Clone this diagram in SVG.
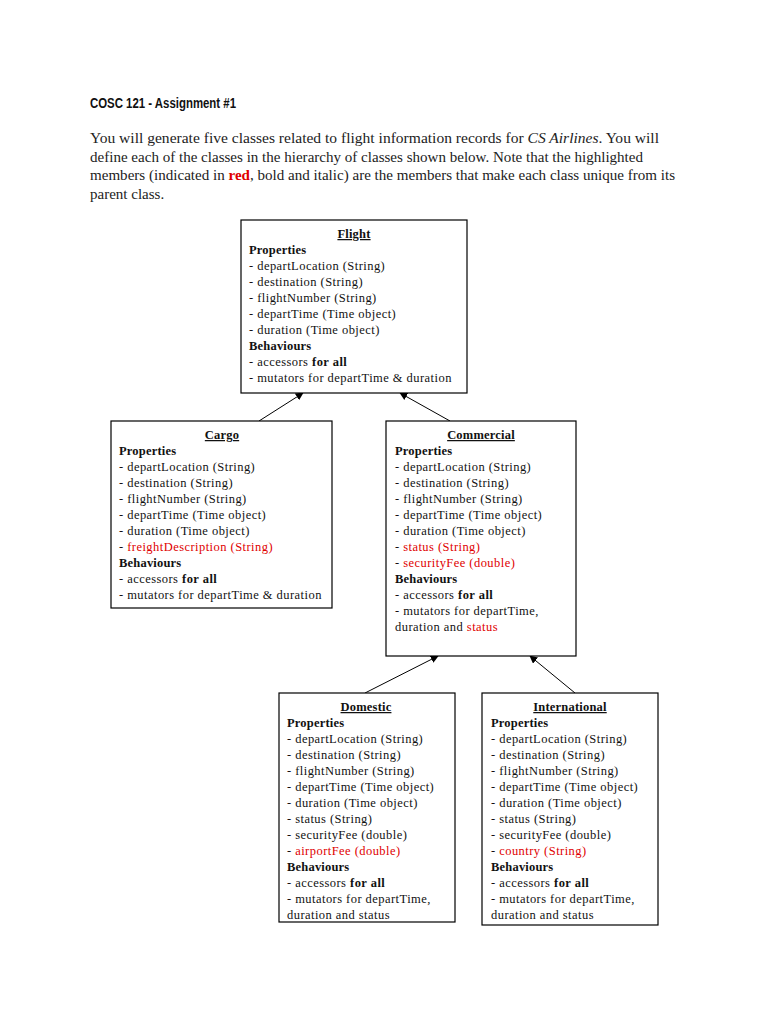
<svg xmlns="http://www.w3.org/2000/svg" width="768" height="1024" viewBox="0 0 768 1024">
<style>
.bg{fill:#fff}
.box{fill:#fff;stroke:#000;stroke-width:1.2}
.t{font-family:"Liberation Serif","Times New Roman",serif;font-size:12.5px;fill:#111;letter-spacing:0.45px}
.h{font-weight:bold;letter-spacing:0.2px}
.title{font-weight:bold;text-decoration:underline;text-anchor:middle;letter-spacing:0.2px}
.red{fill:#e00000}
.b{font-weight:bold}
.p{font-family:"Liberation Serif","Times New Roman",serif;font-size:15px;fill:#222}
.conn{stroke:#000;stroke-width:1;fill:none}
</style>
<defs>
<marker id="arr" viewBox="0 0 10 10" refX="9" refY="5" markerWidth="8" markerHeight="8" markerUnits="userSpaceOnUse" orient="auto">
<path d="M0,0 L10,5 L0,10 z" fill="#000"/>
</marker>
</defs>
<rect class="bg" x="0" y="0" width="768" height="1024"/>
<g id="header">
<text x="90" y="108" font-family="'Liberation Sans',Arial,sans-serif" font-size="14" font-weight="bold" fill="#111" textLength="146" lengthAdjust="spacingAndGlyphs">COSC 121 - Assignment #1</text>
<text class="p" x="90" y="143" textLength="569" lengthAdjust="spacingAndGlyphs">You will generate five classes related to flight information records for <tspan font-style="italic">CS Airlines</tspan>. You will</text>
<text class="p" x="90" y="161.5" textLength="553" lengthAdjust="spacingAndGlyphs">define each of the classes in the hierarchy of classes shown below. Note that the highlighted</text>
<text class="p" x="90" y="180" textLength="585" lengthAdjust="spacingAndGlyphs">members (indicated in <tspan fill="#e00000" font-weight="bold">red</tspan>, bold and italic) are the members that make each class unique from its</text>
<text class="p" x="90" y="198.5">parent class.</text>
</g>
<g id="connectors">
<line class="conn" x1="259" y1="421" x2="303" y2="393" marker-end="url(#arr)"/>
<line class="conn" x1="450" y1="421" x2="400" y2="393" marker-end="url(#arr)"/>
<line class="conn" x1="365" y1="693" x2="438" y2="656" marker-end="url(#arr)"/>
<line class="conn" x1="575" y1="693" x2="530" y2="656" marker-end="url(#arr)"/>
</g>
<g id="flight">
<rect class="box" x="241" y="220" width="226" height="173"/>
<text class="t title" x="354" y="238">Flight</text>
<text class="t h" x="249" y="254">Properties</text>
<text class="t" x="249" y="270">- departLocation (String)</text>
<text class="t" x="249" y="286">- destination (String)</text>
<text class="t" x="249" y="302">- flightNumber (String)</text>
<text class="t" x="249" y="318">- departTime (Time object)</text>
<text class="t" x="249" y="334">- duration (Time object)</text>
<text class="t h" x="249" y="350">Behaviours</text>
<text class="t" x="249" y="366">- accessors  <tspan class="b">for all</tspan></text>
<text class="t" x="249" y="382">- mutators for departTime &amp; duration</text>
</g>
<g id="cargo">
<rect class="box" x="111" y="421" width="221" height="187"/>
<text class="t title" x="222" y="439">Cargo</text>
<text class="t h" x="119" y="455">Properties</text>
<text class="t" x="119" y="471">- departLocation (String)</text>
<text class="t" x="119" y="487">- destination (String)</text>
<text class="t" x="119" y="503">- flightNumber (String)</text>
<text class="t" x="119" y="519">- departTime (Time object)</text>
<text class="t" x="119" y="535">- duration (Time object)</text>
<text class="t" x="119" y="551">- <tspan class="red">freightDescription (String)</tspan></text>
<text class="t h" x="119" y="567">Behaviours</text>
<text class="t" x="119" y="583">- accessors  <tspan class="b">for all</tspan></text>
<text class="t" x="119" y="599">- mutators for departTime &amp; duration</text>
</g>
<g id="commercial">
<rect class="box" x="386" y="421" width="190" height="235"/>
<text class="t title" x="481" y="439">Commercial</text>
<text class="t h" x="395" y="455">Properties</text>
<text class="t" x="395" y="471">- departLocation (String)</text>
<text class="t" x="395" y="487">- destination (String)</text>
<text class="t" x="395" y="503">- flightNumber (String)</text>
<text class="t" x="395" y="519">- departTime (Time object)</text>
<text class="t" x="395" y="535">- duration (Time object)</text>
<text class="t" x="395" y="551">- <tspan class="red">status (String)</tspan></text>
<text class="t" x="395" y="567">- <tspan class="red">securityFee (double)</tspan></text>
<text class="t h" x="395" y="583">Behaviours</text>
<text class="t" x="395" y="599">- accessors  <tspan class="b">for all</tspan></text>
<text class="t" x="395" y="615">- mutators for departTime,</text>
<text class="t" x="395" y="631">duration and <tspan class="red">status</tspan></text>
</g>
<g id="domestic">
<rect class="box" x="279" y="693" width="176" height="229"/>
<text class="t title" x="366" y="711">Domestic</text>
<text class="t h" x="287" y="727">Properties</text>
<text class="t" x="287" y="743">- departLocation (String)</text>
<text class="t" x="287" y="759">- destination (String)</text>
<text class="t" x="287" y="775">- flightNumber (String)</text>
<text class="t" x="287" y="791">- departTime (Time object)</text>
<text class="t" x="287" y="807">- duration (Time object)</text>
<text class="t" x="287" y="823">- status (String)</text>
<text class="t" x="287" y="839">- securityFee (double)</text>
<text class="t" x="287" y="855">- <tspan class="red">airportFee (double)</tspan></text>
<text class="t h" x="287" y="871">Behaviours</text>
<text class="t" x="287" y="887">- accessors <tspan class="b">for all</tspan></text>
<text class="t" x="287" y="903">- mutators for departTime,</text>
<text class="t" x="287" y="919">duration and status</text>
</g>
<g id="international">
<rect class="box" x="482" y="693" width="176" height="232"/>
<text class="t title" x="570" y="711">International</text>
<text class="t h" x="491" y="727">Properties</text>
<text class="t" x="491" y="743">- departLocation (String)</text>
<text class="t" x="491" y="759">- destination (String)</text>
<text class="t" x="491" y="775">- flightNumber (String)</text>
<text class="t" x="491" y="791">- departTime (Time object)</text>
<text class="t" x="491" y="807">- duration (Time object)</text>
<text class="t" x="491" y="823">- status (String)</text>
<text class="t" x="491" y="839">- securityFee (double)</text>
<text class="t" x="491" y="855">- <tspan class="red">country (String)</tspan></text>
<text class="t h" x="491" y="871">Behaviours</text>
<text class="t" x="491" y="887">- accessors <tspan class="b">for all</tspan></text>
<text class="t" x="491" y="903">- mutators for departTime,</text>
<text class="t" x="491" y="919">duration and status</text>
</g>
</svg>
